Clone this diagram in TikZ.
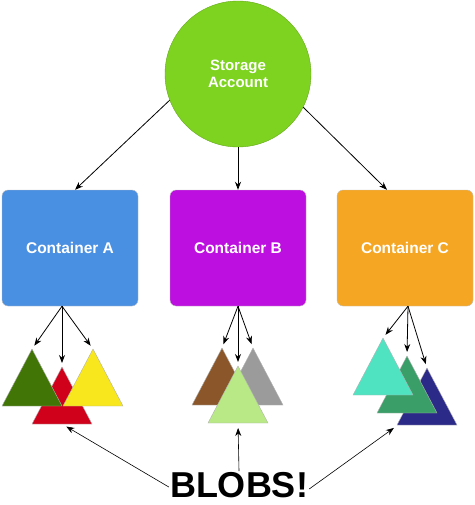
\documentclass[tikz,border=0pt]{standalone}
\usepackage{fontspec}
\setmainfont{Liberation Sans}
\usetikzlibrary{arrows.meta, positioning}

\definecolor{acctgreen}{HTML}{7ED321}
\definecolor{contblue}{HTML}{4A90E2}
\definecolor{contpurple}{HTML}{BD10E0}
\definecolor{contorange}{HTML}{F5A623}
\definecolor{blobdkgreen}{HTML}{417505}
\definecolor{blobred}{HTML}{D0021B}
\definecolor{blobyellow}{HTML}{F8E71C}
\definecolor{blobbrown}{HTML}{8B572A}
\definecolor{blobgray}{HTML}{9B9B9B}
\definecolor{bloblime}{HTML}{B8E986}
\definecolor{blobteal}{HTML}{50E3C2}
\definecolor{blobgreen}{HTML}{3A9E68}
\definecolor{blobnavy}{HTML}{2C2A88}

\tikzset{
  account/.style={circle, fill=acctgreen, draw=acctgreen!80!black, line width=0.4pt,
    minimum size=146pt, inner sep=0pt, align=center, text=white,
    font=\bfseries\fontsize{15}{17}\selectfont},
  container/.style={rectangle, rounded corners=6pt, draw=black!25, line width=0.4pt,
    minimum width=136pt, minimum height=116pt, text=white,
    font=\bfseries\fontsize{15.5}{17}\selectfont},
  blobedge/.style={draw=black!30, line width=0.4pt},
  link/.style={-{Stealth[length=8pt,width=6pt]}, line width=0.8pt},
}

% one blob: apex (#3,#4), coordinate (#1) at the apex
\newcommand{\blob}[4]{%
  \coordinate (#1) at (#3,#4);
  \coordinate (#1-b) at (#3,#4+57);
  \filldraw[blobedge, fill=#2] (#1) -- ++(30,57) -- ++(-60,0) -- cycle;
}

\begin{document}
\begin{tikzpicture}[x=1pt, y=-1pt]
   \useasboundingbox (0,0) rectangle (474,505);

   \node[account] (acct) at (238,74) {Storage\\Account};

   \node[container, fill=contblue]   (contA) at (70,248)  {Container A};
   \node[container, fill=contpurple] (contB) at (238,248) {Container B};
   \node[container, fill=contorange] (contC) at (405,248) {Container C};

   % blobs of container A
   \blob{redA}{blobred}{62}{367}
   \blob{greenA}{blobdkgreen}{32}{349}
   \blob{yellowA}{blobyellow}{93}{349}
   % blobs of container B
   \blob{brownB}{blobbrown}{222}{348}
   \blob{grayB}{blobgray}{253}{348}
   \blob{limeB}{bloblime}{238}{366}
   % blobs of container C
   \blob{navyC}{blobnavy}{427}{368}
   \blob{greenC}{blobgreen}{407}{356}
   \blob{tealC}{blobteal}{383}{338}

   \node[font=\bfseries\fontsize{36}{36}\selectfont, inner sep=1pt] (blobs) at (239,485) {BLOBS!};

   \path[link]
   (acct.201) edge ([xshift=5pt]contA.north)
   (acct.south) edge (contB.north)
   (acct.333) edge ([xshift=-18pt]contC.north);

   \path[link, shorten >=4pt]
   ([xshift=-8pt]contA.south) edge (greenA)
          edge (redA)
          edge (yellowA)
   (contB.south) edge (brownB)
          edge (limeB)
          edge (grayB)
   ([xshift=3pt]contC.south) edge (tealC)
          edge (greenC)
          edge (navyC);

   \path[link, line width=0.6pt, shorten >=5pt]
   ([yshift=-2pt]blobs.west) edge (redA-b)
   (blobs.north) edge (limeB-b)
   ([yshift=-4pt]blobs.east) edge ([xshift=-29pt]navyC-b);

\end{tikzpicture}
\end{document}
